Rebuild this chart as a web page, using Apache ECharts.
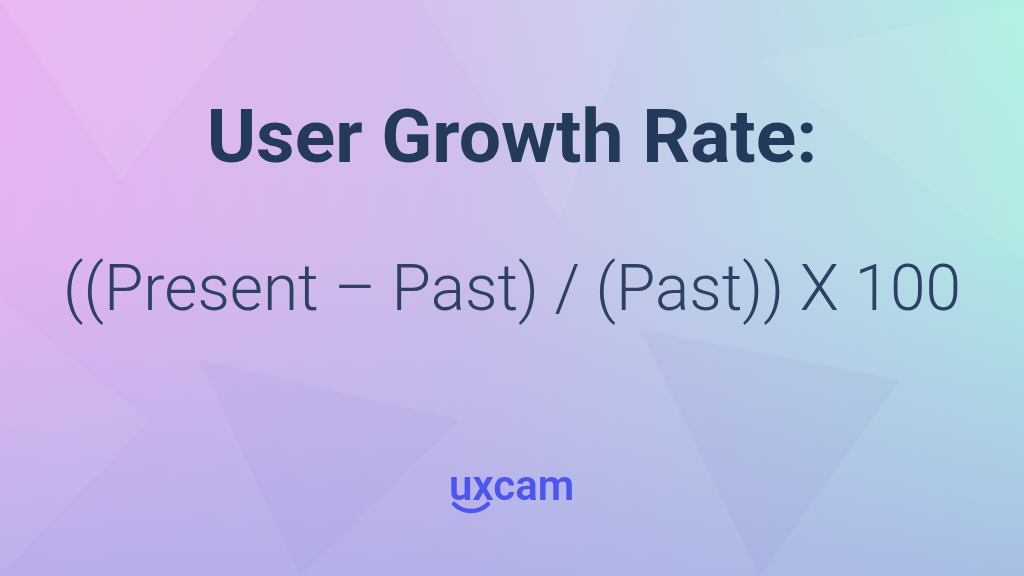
<!DOCTYPE html>
<html>
<head>
<meta charset="utf-8">
<script src="https://cdn.jsdelivr.net/npm/echarts@6/dist/echarts.min.js"></script>
<style>
  html, body { margin: 0; padding: 0; }
  #main { width: 1024px; height: 576px; }
</style>
</head>
<body>
<div id="main"></div>
<script>
// texts shown on the slide
const titleText = ['User Growth Rate:'];
const formulaText = ['((Present \u2013 Past) / (Past)) X 100'];
const brandText = ['uxcam'];

const chart = echarts.init(document.getElementById('main'));

const option = {
  backgroundColor: {
    type: 'linear', x: 0, y: 0, x2: 1, y2: 0,
    colorStops: [
      { offset: 0, color: '#eab2f3' },
      { offset: 0.45, color: '#d2bfee' },
      { offset: 1, color: '#aef0e4' }
    ]
  },
  graphic: [
    {
      // bluish-lavender wash towards the bottom
      type: 'rect', shape: { x: 0, y: 0, width: 1024, height: 576 },
      style: {
        fill: {
          type: 'linear', x: 0, y: 0, x2: 0, y2: 1,
          colorStops: [
            { offset: 0, color: 'rgba(170,175,230,0)' },
            { offset: 0.4, color: 'rgba(170,175,230,0.1)' },
            { offset: 1, color: 'rgba(165,170,228,0.7)' }
          ]
        }
      }
    },
    // a few faint facets for the low-poly look
    { type: 'polygon', shape: { points: [[0, 0], [260, 0], [120, 180]] }, style: { fill: 'rgba(255,255,255,0.07)' } },
    { type: 'polygon', shape: { points: [[420, 0], [640, 0], [560, 220]] }, style: { fill: 'rgba(255,255,255,0.06)' } },
    { type: 'polygon', shape: { points: [[760, 60], [1024, 0], [1024, 260]] }, style: { fill: 'rgba(255,255,255,0.07)' } },
    { type: 'polygon', shape: { points: [[200, 360], [460, 420], [300, 576]] }, style: { fill: 'rgba(120,110,190,0.05)' } },
    { type: 'polygon', shape: { points: [[640, 330], [900, 380], [760, 576]] }, style: { fill: 'rgba(120,110,190,0.06)' } },
    { type: 'polygon', shape: { points: [[0, 300], [150, 420], [0, 576]] }, style: { fill: 'rgba(255,255,255,0.05)' } },
    {
      type: 'text', left: 'center', top: 106,
      style: {
        text: titleText[0], fill: '#233a5b',
        font: 'bold 75px Roboto', textAlign: 'center'
      }
    },
    {
      type: 'text', left: 'center', top: 262,
      style: {
        text: formulaText[0], fill: '#2c4163',
        font: '300 64px Roboto', textAlign: 'center'
      }
    },
    {
      type: 'text', left: 449, top: 468,
      style: {
        text: brandText[0], fill: '#4b55f0',
        font: '600 42px Roboto'
      }
    },
    {
      type: 'arc', shape: { cx: 471, cy: 487, r: 24, startAngle: Math.PI * 0.25, endAngle: Math.PI * 0.75 },
      style: { stroke: '#4b55f0', lineWidth: 4.5, lineCap: 'round', fill: null }
    }
  ]
};

chart.setOption(option);
</script>
</body>
</html>
